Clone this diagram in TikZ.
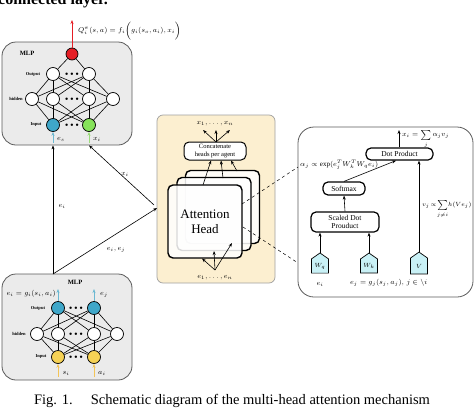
\documentclass[tikz,border=0pt]{standalone}
\usepackage{fontspec}
\setmainfont{Liberation Serif}
\usetikzlibrary{arrows.meta,shapes.symbols,calc}
\definecolor{mlpfill}{HTML}{EBEBEB}
\definecolor{mlpdraw}{HTML}{5A5A5A}
\definecolor{attfill}{HTML}{FCEFD0}
\definecolor{attdraw}{HTML}{A0A0A0}
\definecolor{nblue}{HTML}{3FA7C9}
\definecolor{ngreen}{HTML}{86E35A}
\definecolor{nred}{HTML}{E51E25}
\definecolor{nyellow}{HTML}{F6D255}
\definecolor{ablue}{HTML}{6BB8D2}
\definecolor{agreen}{HTML}{9ADB7A}
\definecolor{ayellow}{HTML}{F3C457}
\definecolor{pent}{HTML}{C9F1F6}
\begin{document}
\begin{tikzpicture}[x=1pt,y=-1pt,
  neuron/.style={circle,draw=black,line width=0.7pt,fill=white,minimum size=13pt,inner sep=0pt},
  mlpbox/.style={draw=mlpdraw,fill=mlpfill,rounded corners=14pt,line width=0.8pt,minimum width=130pt,inner sep=0pt},
  arr/.style={-{Stealth[length=4pt,width=3pt]},line width=0.6pt},
  tinylab/.style={font=\fontsize{4.5}{5}\selectfont\bfseries},
  mathlab/.style={font=\fontsize{7}{8}\selectfont,inner sep=0pt},
  dotsn/.style={font=\fontsize{5}{5}\selectfont},
  opbox/.style={draw,rounded corners=5pt,line width=1.2pt,fill=white,align=center,inner sep=0pt,font=\fontsize{7.5}{8}\selectfont},
  headbox/.style={draw,rounded corners=5pt,line width=1.4pt,fill=white,fill opacity=0.85,text opacity=1,minimum width=74pt,minimum height=73pt,inner sep=0pt},
  pentbox/.style={signal,signal to=north,signal pointer angle=110,draw,line width=0.7pt,fill=pent,minimum width=17pt,minimum height=18pt,inner sep=0pt,font=\fontsize{6}{6}\selectfont}
]
\useasboundingbox (0,0) rectangle (474,410);

% clipped heading text from the page above
\node[anchor=base west,inner sep=0pt,font=\fontsize{16}{16}\selectfont\bfseries] (head) at (-2,4) {connected layer.};

% ===== top MLP =====
\node[mlpbox,minimum height=103pt] (mlp1) at (67,93.5) {};
\node[font=\fontsize{6.5}{7}\selectfont\bfseries] (mlp1lab) at (27,53) {MLP};
\node[neuron,fill=nred,minimum size=12pt] (r) at (72,54) {};
\node[neuron] (o1) at (53,74) {};
\node[neuron] (o2) at (89,74) {};
\node[neuron] (h1) at (32,99) {};
\node[neuron] (h2) at (53,99) {};
\node[neuron] (h3) at (89,99) {};
\node[neuron] (h4) at (113,99) {};
\node[neuron,fill=nblue] (i1) at (53,125) {};
\node[neuron,fill=ngreen] (i2) at (89,125) {};
\foreach \a in {o1,o2} \draw[line width=0.6pt] (r) -- (\a);
\foreach \a in {o1,o2} \foreach \b in {h1,h2,h3,h4} \draw[line width=0.6pt] (\a) -- (\b);
\foreach \a in {i1,i2} \foreach \b in {h1,h2,h3,h4} \draw[line width=0.6pt] (\a) -- (\b);
\node[dotsn] (d1) at (72,74) {$\bullet\bullet\bullet$};
\node[dotsn] (d2) at (72,99) {$\bullet\bullet\bullet$};
\node[dotsn] (d3) at (72,125) {$\bullet\bullet\bullet$};
\node[tinylab] (lo1) at (33,74) {Output};
\node[tinylab] (lh1) at (16,99) {hidden};
\node[tinylab] (li1) at (36,125) {Input};
\coordinate (qtop) at (72,20);
\draw[arr,draw=nred,-{Stealth[length=4pt,width=3pt,fill=nred]}] (r) -- (qtop);
\node[mathlab,anchor=west] (qlab) at (78,31) {$Q_i^{\pi}(s,a)=f_i\big(g_i(s_o,a_i),x_i\big)$};
\coordinate (es0) at (53,143);
\coordinate (xs0) at (89,143);
\draw[arr,draw=ablue] (es0) -- (i1);
\draw[arr,draw=agreen] (xs0) -- (i2);
\node[mathlab] (eslab) at (61,139) {$e_s$};
\node[mathlab] (xslab) at (97,139) {$x_i$};

% ===== bottom MLP =====
\node[mlpbox,minimum height=106pt] (mlp2) at (67,327) {};
\node[font=\fontsize{6.5}{7}\selectfont\bfseries] (mlp2lab) at (75,282) {MLP};
\node[neuron,fill=nblue] (ob1) at (58,308) {};
\node[neuron,fill=nblue] (ob2) at (94,308) {};
\node[neuron] (hb1) at (37,334) {};
\node[neuron] (hb2) at (58,334) {};
\node[neuron] (hb3) at (94,334) {};
\node[neuron] (hb4) at (117,334) {};
\node[neuron,fill=nyellow] (ib1) at (58,357) {};
\node[neuron,fill=nyellow] (ib2) at (94,357) {};
\foreach \a in {ob1,ob2} \foreach \b in {hb1,hb2,hb3,hb4} \draw[line width=0.6pt] (\a) -- (\b);
\foreach \a in {ib1,ib2} \foreach \b in {hb1,hb2,hb3,hb4} \draw[line width=0.6pt] (\a) -- (\b);
\node[dotsn] (d4) at (76,308) {$\bullet\bullet\bullet$};
\node[dotsn] (d5) at (76,334) {$\bullet\bullet\bullet$};
\node[dotsn] (d6) at (76,357) {$\bullet\bullet\bullet$};
\node[tinylab] (lo2) at (38,308) {Output};
\node[tinylab] (lh2) at (19,334) {hidden};
\node[tinylab] (li2) at (41,357) {Input};
\coordinate (ei1) at (58,289);
\coordinate (ej1) at (94,289);
\draw[arr,draw=ablue] (ob1) -- (ei1);
\draw[arr,draw=ablue] (ob2) -- (ej1);
\node[mathlab,anchor=east] (eilab) at (56,294) {$e_i=g_i(s_i,a_i)$};
\node[mathlab] (ejlab) at (104,295) {$e_j$};
\coordinate (si0) at (58,377);
\coordinate (ai0) at (94,377);
\draw[arr,draw=ayellow] (si0) -- (ib1);
\draw[arr,draw=ayellow] (ai0) -- (ib2);
\node[mathlab] (silab) at (66,373) {$s_i$};
\node[mathlab] (ailab) at (102,373) {$a_i$};

% ===== attention block =====
\node[draw=attdraw,fill=attfill,rounded corners=6pt,line width=0.7pt,minimum width=118pt,minimum height=168pt,inner sep=0pt] (attn) at (216,199) {};
\node[opbox,minimum width=62pt,minimum height=18pt,font=\fontsize{6.5}{7.5}\selectfont,line width=1pt] (concat) at (215,151) {Concatenate\\heads per agent};
\node[headbox] (hback) at (222.5,207) {};
\node[headbox] (hmid) at (214,214) {};
\node[headbox,font=\fontsize{13}{15}\selectfont,align=center] (hfront) at (205,221.5) {Attention\\Head};
\node[mathlab] (xout) at (215,124) {$x_1,\ldots,x_n$};
\coordinate (ctop) at (216,142);
\coordinate (x1e) at (203,130);
\coordinate (x2e) at (216,130);
\coordinate (x3e) at (230,130);
\draw[arr] (ctop) -- (x1e);
\draw[arr] (ctop) -- (x2e);
\draw[arr] (ctop) -- (x3e);
\coordinate (f1) at (203,185);
\coordinate (f2) at (223,178);
\coordinate (f3) at (237,171);
\draw[arr] (f1) -- (concat.south west -| 211,0);
\draw[arr] (f2) -- (concat.south -| 221,0);
\draw[arr] (f3) -- (concat.south east -| 231,0);
\node[mathlab] (ein) at (215,278) {$e_1,\ldots,e_n$};
\coordinate (eap) at (215,270);
\coordinate (g1) at (202,258.5);
\coordinate (g2) at (214,251);
\coordinate (g3) at (232,243);
\draw[arr] (eap) -- (g1);
\draw[arr] (eap) -- (g2);
\draw[arr] (eap) -- (g3);

% ===== connectors on the left =====
\coordinate (b0) at (53,274);
\coordinate (join) at (157,208);
\coordinate (join2) at (154,205);
\draw[arr] (b0) -- (mlp1.south -| i1);
\draw[arr] (b0) -- (join);
\draw[arr] (join2) -- (mlp1.south -| i2);
\node[mathlab] (leilab) at (62,206) {$e_i$};
\node[mathlab] (leijlab) at (116,250) {$e_i,e_j$};
\node[mathlab] (lxlab) at (125,174) {$x_i$};

% ===== detail box =====
\node[draw=mlpdraw,rounded corners=16pt,line width=0.8pt,minimum width=175pt,minimum height=170pt,inner sep=0pt] (det) at (385.5,212) {};
\coordinate (dsA) at (242,204);
\coordinate (dsB) at (298,167);
\coordinate (dsC) at (243,227);
\coordinate (dsD) at (298,263);
\draw[dashed,line width=0.5pt] (dsA) -- (dsB);
\draw[dashed,line width=0.5pt] (dsC) -- (dsD);
\node[opbox,minimum width=67pt,minimum height=12pt] (dot) at (399.5,154) {Dot Product};
\node[opbox,minimum width=42pt,minimum height=13pt] (soft) at (344,188.5) {Softmax};
\node[opbox,minimum width=68pt,minimum height=20pt] (scaled) at (345,222) {Scaled Dot\\Prouduct};
\node[pentbox] (wq) at (320,266) {$W_q$};
\node[pentbox] (wk) at (369,266) {$W_k$};
\node[pentbox] (vv) at (419,266) {$V$};
\coordinate (xo) at (399,130);
\draw[arr] (dot.north -| 399,0) -- (xo);
\draw[arr] (soft.north) -- (dot.south -| 396,0);
\draw[arr] (scaled.north) -- (soft.south);
\draw[arr] (wq.north) -- (scaled.south -| wq.north);
\draw[arr] (wk.north) -- (scaled.south -| wk.north);
\draw[arr] (vv.north) -- (dot.south -| vv.north);
\node[mathlab,anchor=west] (xilab) at (402,139) {$x_i=\sum\limits_j \alpha_j v_j$};
\node[mathlab,anchor=west] (alab) at (300,165) {$\alpha_j\propto\exp(e_j^{T}W_k^{T}W_q e_i)$};
\node[mathlab,anchor=west,font=\fontsize{6.2}{7}\selectfont] (vlab) at (422,209) {$v_j\!\propto\!\sum\limits_{j\neq i}\! h(Ve_j)$};
\node[mathlab] (eilab2) at (320,284) {$e_i$};
\node[mathlab,anchor=west] (ejlab2) at (350,283) {$e_j=g_j(s_j,a_j),\,j\in\backslash i$};

% ===== caption =====
\node[font=\fontsize{14.5}{16}\selectfont,inner sep=0pt] (cap) at (232,401) {Fig. 1.\quad\ Schematic diagram of the multi-head attention mechanism};
\end{tikzpicture}
\end{document}
